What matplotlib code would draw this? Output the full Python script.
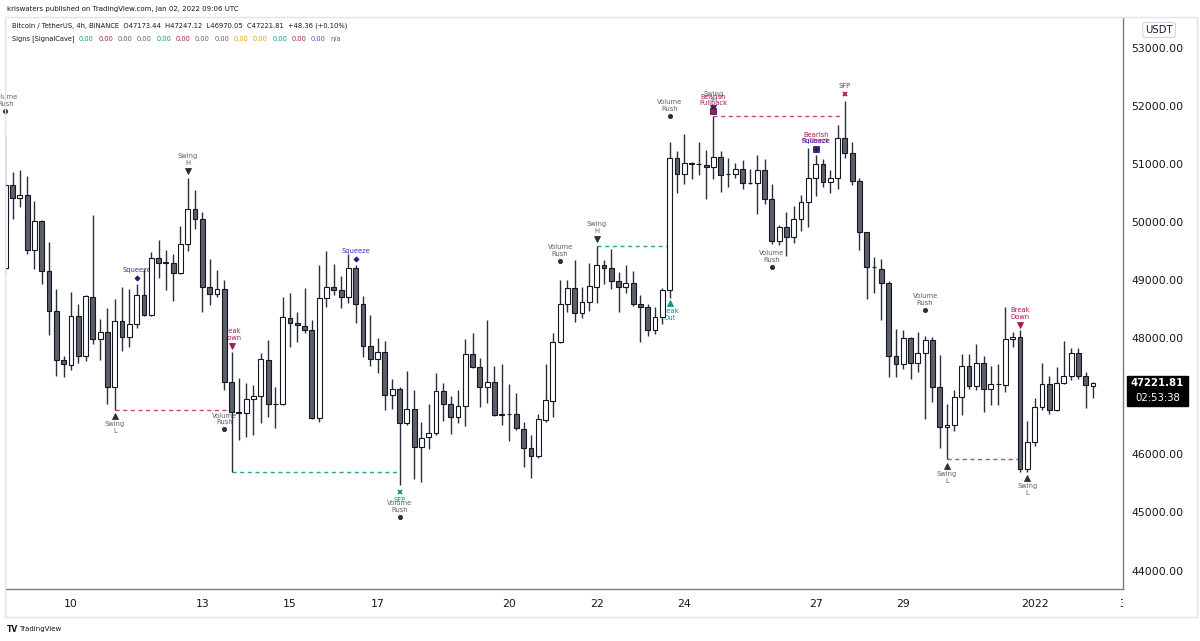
import matplotlib
matplotlib.use("Agg")
import matplotlib.pyplot as plt
import matplotlib.transforms as mtransforms
from matplotlib.patches import Rectangle
from matplotlib.offsetbox import TextArea, HPacker, AnchoredOffsetbox
import pandas as pd

# --- 4h BTC/USDT candles ---
opens = [49200, 50630, 50417, 50457, 49524, 50010, 49157, 48464, 47622, 47537,
         48378, 47697, 48711, 47977, 48098, 47153, 48292, 48023, 48235, 48745,
         48396, 49386, 49295, 49300, 49123, 49615, 50217, 50045, 48877, 48751,
         48842, 47250, 46735, 46706, 46947, 47004, 47622, 46866, 46866, 48338,
         48252, 48212, 48138, 46632, 48682, 48871, 48825, 48711, 49209, 48579,
         47869, 47640, 47766, 47015, 47119, 46534, 46775, 46133, 46294, 46363,
         47084, 46861, 46649, 46838, 47725, 47508, 47153, 47250, 46678, 46689,
         46689, 46431, 46105, 45979, 46592, 46924, 47926, 48585, 48865, 48424,
         48625, 48882, 49255, 49209, 48980, 48882, 48940, 48585, 48527, 48138,
         48367, 48825, 51104, 50830, 51019, 50990, 50984, 50944, 51116, 50818,
         50830, 50915, 50669, 50669, 50887, 50400, 49673, 49913, 49741, 50045,
         50343, 50761, 51001, 50686, 50761, 51448, 51190, 50704, 49827, 49215,
         49197, 48940, 47697, 47554, 47995, 47577, 47737, 47966, 47164, 46477,
         46506, 46992, 47519, 47176, 47565, 47118, 47204, 47193, 47977, 48012,
         45744, 46219, 46821, 47210, 46763, 47222, 47347, 47737, 47347, 47173]
highs = [51500, 50858, 50887, 50784, 50354, 50030, 49655, 48837, 47700, 48797,
         48585, 48739, 50125, 48327, 48510, 48670, 48882, 48837, 48928, 49197,
         49484, 49696, 49512, 49455, 49930, 50761, 50543, 50171, 49358, 49169,
         49008, 47760, 47307, 47233, 47193, 47737, 47966, 47164, 48711, 48768,
         48453, 48854, 48310, 49266, 49501, 49272, 49066, 49444, 49266, 48722,
         48396, 47995, 47955, 47296, 47150, 47439, 47107, 46552, 46866, 47405,
         47233, 47004, 47107, 47983, 48081, 47651, 48310, 47519, 47554, 47210,
         47061, 46563, 46334, 46689, 47548, 48092, 49008, 49008, 49341, 48871,
         49295, 49587, 49352, 49529, 49129, 49255, 49152, 48739, 48585, 48539,
         48854, 51374, 51219, 51517, 51030, 51374, 51230, 51815, 51219, 51104,
         51013, 51070, 50915, 51144, 51076, 50658, 49953, 50171, 50268, 50457,
         51276, 51144, 51076, 50887, 51660, 52078, 51374, 50750, 49827, 49398,
         49369, 48985, 48149, 48138, 48023, 48098, 48035, 48023, 47708, 46866,
         47107, 47725, 47725, 47897, 47691, 47519, 47548, 48539, 48098, 48138,
         46580, 46964, 47565, 47347, 47508, 47955, 47823, 47823, 47422, 47247]
lows = [49100, 50056, 50257, 49455, 49197, 48928, 48052, 47348, 47336, 47451,
        47565, 47605, 47900, 47622, 46866, 46763, 47783, 47851, 48166, 48380,
        48380, 49037, 48825, 48642, 49100, 49501, 49873, 48441, 48567, 48700,
        47100, 45700, 46248, 46305, 46334, 46534, 46637, 46448, 46850, 47851,
        47937, 48081, 46603, 46563, 48539, 48739, 48510, 48608, 48252, 47680,
        47525, 47405, 46763, 46786, 45475, 46506, 45578, 45521, 46088, 46334,
        46569, 46345, 46534, 46480, 47479, 46821, 46889, 46660, 46506, 46237,
        46420, 45778, 45589, 45933, 46563, 46649, 47909, 48453, 48281, 48350,
        48470, 48608, 48922, 48842, 48441, 48768, 48550, 47926, 48041, 48063,
        48250, 48682, 50503, 50658, 50744, 50800, 50400, 50732, 50514, 50600,
        50750, 50572, 50658, 50142, 50300, 49627, 49600, 49415, 49644, 49850,
        49913, 50446, 50600, 50503, 50572, 51100, 50629, 49512, 48665, 48768,
        48310, 47325, 47336, 47462, 47300, 47410, 46603, 46900, 46105, 45916,
        46400, 46677, 47118, 47100, 46735, 46849, 46849, 47078, 47851, 45700,
        45687, 46150, 46763, 46700, 46740, 47210, 47280, 47300, 46792, 46970]
closes = [50630, 50417, 50469, 49512, 50010, 49157, 48464, 47622, 47548, 48378,
          47697, 48722, 47977, 48098, 47153, 48292, 48023, 48235, 48745, 48396,
          49386, 49295, 49305, 49123, 49627, 50217, 50056, 48882, 48751, 48842,
          47250, 46735, 46706, 46958, 47004, 47634, 46861, 46870, 48356, 48264,
          48218, 48138, 46632, 48682, 48871, 48825, 48711, 49209, 48579, 47869,
          47640, 47766, 47015, 47119, 46534, 46775, 46133, 46288, 46374, 47084,
          46861, 46649, 46838, 47725, 47508, 47153, 47250, 46678, 46689, 46700,
          46448, 46105, 45979, 46603, 46935, 47926, 48585, 48865, 48424, 48625,
          48894, 49255, 49209, 48980, 48882, 48940, 48585, 48527, 48138, 48367,
          48825, 51104, 50830, 51013, 50990, 50995, 50944, 51116, 50812, 50820,
          50915, 50675, 50675, 50887, 50400, 49673, 49913, 49741, 50045, 50343,
          50761, 51001, 50686, 50761, 51448, 51190, 50704, 49827, 49226, 49220,
          48940, 47697, 47554, 47995, 47577, 47737, 47966, 47164, 46477, 46506,
          46992, 47519, 47176, 47565, 47118, 47210, 47210, 47977, 48012, 45744,
          46219, 46821, 47210, 46763, 47222, 47347, 47737, 47347, 47193, 47221.81]

first_bar = "2021-12-08 12:00"
tick_days = ["2021-12-10", "2021-12-13", "2021-12-15", "2021-12-17", "2021-12-20",
             "2021-12-22", "2021-12-24", "2021-12-27", "2021-12-29", "2022-01-01"]
tick_labels = ["10", "13", "15", "17", "20", "22", "24", "27", "29", "2022"]
cut_day, cut_label = "2022-01-03", "3"
price_ticks = [44000, 45000, 46000, 48000, 49000, 50000, 51000, 52000, 53000]

# signal labels: (bar, kind, gap in px)
signals = [(0, "vol_up", 24), (15, "swing_l", 6), (18, "squeeze", 6), (25, "swing_h", 7),
           (30, "vol_dn", 39), (31, "break_down", 6), (48, "squeeze", 6),
           (54, "sfp_bull", 7), (54, "vol_dn", 32), (76, "vol_up", 19), (81, "swing_h", 7),
           (91, "vol_up", 26), (91, "break_out", 5), (97, "swing_h", 8), (97, "pullback", 5),
           (105, "vol_dn", 23), (111, "pullback", 6), (111, "squeeze", 6),
           (115, "sfp_bear", 7), (126, "vol_up", 26), (129, "swing_l", 7),
           (139, "break_down", 5), (140, "swing_l", 6)]
# dashed level lines: (from bar, to bar, side, colour)
levels = [(15, 31, "low", "m"), (31, 54, "low", "t"), (81, 91, "high", "t"),
          (97, 115, "high", "m"), (129, 139, "low", "m")]

TXT = "#131722"
GRAY = "#5d606b"
DARK = "#2a2e39"
BODY_DN = "#5d606b"
MAG = "#a8175a"
MAG_LINE = "#c8457f"
TEAL = "#089981"
TEAL_LINE = "#26a69a"
PURP = "#3b2fb5"
NAVY = "#1c1a80"

W, H = 1200, 641
fig = plt.figure(figsize=(W / 100, H / 100), dpi=100)
fig.patch.set_facecolor("white")
ax = fig.add_axes([6 / W, 1 - 589 / H, 1117 / W, 571 / H])

n = len(opens)
idx = list(range(n))
ymin, ymax = 43682, 53508
per_px = (ymax - ymin) / 571
ax.set_xlim(0.1, 153.1)
ax.set_ylim(ymin, ymax)

# candles
ax.vlines(idx, lows, highs, color=DARK, lw=1, zorder=3)
bottoms = [min(o, c) for o, c in zip(opens, closes)]
heights = [abs(c - o) for o, c in zip(opens, closes)]
fills = ["white" if c >= o else BODY_DN for o, c in zip(opens, closes)]
ax.bar(idx, heights, bottom=bottoms, width=0.66, color=fills,
       edgecolor="#131722", linewidth=0.8, zorder=4)

# dashed levels
for a, b, side, col in levels:
    y = lows[a] if side == "low" else highs[a]
    ax.hlines(y, a, b - 0.3, colors=MAG_LINE if col == "m" else TEAL_LINE,
              lw=1, linestyles=(0, (3, 2.5)), zorder=2)

styles = {
    "swing_h": ("v", DARK, 4.5, "Swing\nH", GRAY, 1),
    "swing_l": ("^", DARK, 4.5, "Swing\nL", GRAY, -1),
    "squeeze": ("D", NAVY, 2.6, "Squeeze", PURP, 1),
    "break_down": ("v", MAG, 4.0, "Break\nDown", MAG, 1),
    "break_out": ("^", TEAL, 4.0, "Break\nOut", TEAL, -1),
    "sfp_bear": ("x", MAG, 3.5, "SFP", MAG, 1),
    "sfp_bull": ("x", TEAL, 3.5, "SFP", TEAL, -1),
    "pullback": ("s", MAG, 3.8, "Bearish\nPullback", MAG, 1),
    "vol_up": ("o", DARK, 3.0, "Volume\nRush", GRAY, 1),
    "vol_dn": ("o", DARK, 3.0, "Volume\nRush", GRAY, -1),
}
PT = 0.72  # points per pixel at 100 dpi
for k, kind, gap in signals:
    mk, mc, ms, text, tc, sgn = styles[kind]
    base = highs[k] if sgn > 0 else lows[k]
    tr = mtransforms.offset_copy(ax.transData, fig=fig, x=0, y=sgn * gap * PT, units="points")
    mew = 1.3 if mk == "x" else 0.6
    ec = "#2a1a6a" if mk == "s" else mc
    ax.plot(k, base, marker=mk, color=mc, mec=ec, ms=ms, mew=mew, transform=tr,
            zorder=2, clip_on=False)
    if kind.startswith("vol"):
        dy, va = sgn * gap + 4, "bottom"
    elif sgn > 0:
        dy, va = gap + 5, "bottom"
    else:
        dy, va = -(gap + 5), "top"
    ax.annotate(text, xy=(k, base), xytext=(0, dy * PT), textcoords="offset points",
                ha="center", va=va, fontsize=4.9, color=tc, linespacing=1.15,
                zorder=1, annotation_clip=False)

# axes styling
for s in ["top", "left"]:
    ax.spines[s].set_visible(False)
for s in ["right", "bottom"]:
    ax.spines[s].set_color("#787b86")
    ax.spines[s].set_linewidth(1)
ax.yaxis.tick_right()
ax.set_yticks(price_ticks)
ax.set_yticklabels([f"{p:.2f}" for p in price_ticks])
ax.tick_params(axis="y", length=0, pad=6, labelsize=7.8, labelcolor=TXT)

t0 = pd.Timestamp(first_bar)
step = pd.Timedelta("4h")
ax.set_xticks([(pd.Timestamp(d) - t0) / step for d in tick_days])
ax.set_xticklabels(tick_labels)
ax.tick_params(axis="x", length=0, pad=7, labelsize=7.8, labelcolor=TXT)
cut = ax.text((pd.Timestamp(cut_day) - t0) / step, ymin, cut_label,
              transform=ax.transData, ha="center", va="top", fontsize=7.8, color=TXT)
cut.set_y(ymin - 10 * per_px)
cut.set_clip_box(mtransforms.TransformedBbox(
    mtransforms.Bbox([[0, 0], [1123 / W, 1]]), fig.transFigure))
cut.set_clip_on(True)

# last price box
last = closes[-1]
bt = mtransforms.blended_transform_factory(ax.transAxes, ax.transData)
ax.add_patch(Rectangle((1 + 4 / 1117, last - 23 * per_px), 61 / 1117, 30 * per_px,
                       transform=bt, color="black", clip_on=False, zorder=6))
ax.text(1 + 34.5 / 1117, last, f"{last:.2f}", transform=bt, ha="center", va="center",
        fontsize=7.3, color="white", fontweight="bold", zorder=7)
ax.text(1 + 34.5 / 1117, last - 15 * per_px, "02:53:38", transform=bt, ha="center",
        va="center", fontsize=7.3, color="white", zorder=7)

fig.text(1159 / W, 1 - 30 / H, "USDT", ha="center", va="center", fontsize=7.3, color=TXT,
         bbox=dict(boxstyle="round,pad=0.25", fc="white", ec="#d1d4dc", lw=0.8))

# panel frame
fig.add_artist(Rectangle((5 / W, 1 - 617 / H), 1192 / W, 600 / H, transform=fig.transFigure,
                         fill=False, ec="#e0e3eb", lw=1))

# header
fig.text(7 / W, 1 - 9 / H, "kriswaters published on TradingView.com, Jan 02, 2022 09:06 UTC",
         fontsize=5.0, color=TXT, va="center")
fig.text(12 / W, 1 - 26 / H,
         "Bitcoin / TetherUS, 4h, BINANCE  O47173.44  H47247.12  L46970.05  C47221.81  +48.36 (+0.10%)",
         fontsize=4.9, color=TXT, va="center")
sig_cols = [TEAL, MAG, GRAY, GRAY, TEAL, MAG, GRAY, GRAY, "#e0a21b", "#e0a21b", TEAL, MAG, "#5448c8"]
parts = [TextArea("Signs [SignalCave]", textprops=dict(fontsize=4.8, color=TXT))]
parts += [TextArea("0.00", textprops=dict(fontsize=4.8, color=c)) for c in sig_cols]
parts += [TextArea("n/a", textprops=dict(fontsize=4.8, color=GRAY))]
box = AnchoredOffsetbox(loc="center left", child=HPacker(children=parts, sep=3.2, pad=0),
                        bbox_to_anchor=(12 / W, 1 - 39 / H), bbox_transform=fig.transFigure,
                        frameon=False, pad=0, borderpad=0)
fig.add_artist(box)

# footer logo
fig.text(7 / W, 1 - 629 / H, "TV", fontsize=5.5, fontweight="bold", color=TXT, va="center")
fig.text(19 / W, 1 - 629 / H, "TradingView", fontsize=5, color=TXT, va="center")

fig.savefig("out.png", dpi=100, facecolor="white")
